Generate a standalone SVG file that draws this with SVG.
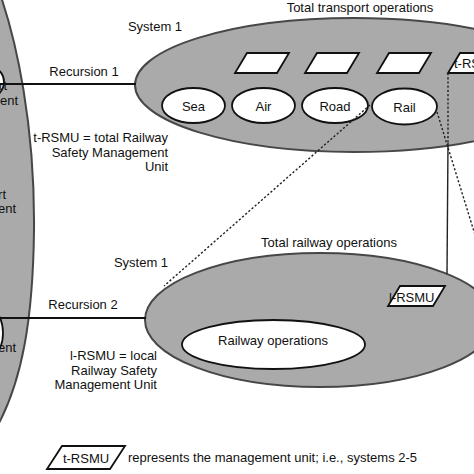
<svg xmlns="http://www.w3.org/2000/svg" width="474" height="474" viewBox="0 0 474 474">
<style>
text{font-family:"Liberation Sans",Arial,sans-serif;font-size:13px;fill:#111}
.sys{fill:#aaaaaa;stroke:#474747;stroke-width:2}
.unit{fill:#fff;stroke:#111;stroke-width:1.8}
.sub{fill:#fff;stroke:#111;stroke-width:1.8}
.dash{stroke:#222;stroke-width:1.4;stroke-dasharray:2.2 2;fill:none}
.rec{stroke:#111;stroke-width:2.2;fill:none}
</style>
<rect width="474" height="474" fill="#fff"/>
<g id="left-system">
<path class="sys" d="M -60,-20 L -5,-20 C 18,40 35,130 34,230 C 33,320 22,380 -2,425 L -60,425 Z"/>
<ellipse class="sub" cx="-20" cy="82" rx="24" ry="19"/>
<ellipse class="sub" cx="-25" cy="333" rx="28" ry="33" stroke-width="2.5"/>
<text x="7" y="90" text-anchor="end">Transport</text>
<text x="18" y="105" text-anchor="end">Management</text>
<text x="6" y="199" text-anchor="end">Transport</text>
<text x="16" y="213" text-anchor="end">Management</text>
<text x="16" y="352" text-anchor="end">Management</text>
</g>
<g id="system-transport">
<ellipse class="sys" cx="354" cy="85" rx="219" ry="67"/>
<text x="360" y="12" text-anchor="middle">Total transport operations</text>
<text x="155" y="31" text-anchor="middle">System 1</text>
<text x="84" y="76" text-anchor="middle">Recursion 1</text>
</g>
<g id="units-top">
<polygon class="unit" points="247,53 289,53 277,73 235,73"/>
<polygon class="unit" points="317,53 359,53 347,73 305,73"/>
<polygon class="unit" points="389,53 431,53 419,73 377,73"/>
<polygon class="unit" points="460,53 502,53 490,73 448,73" stroke-width="2.2"/>
<text x="454" y="68">t-RSMU</text>
</g>
<g id="sea"><ellipse class="sub" cx="193.5" cy="105.5" rx="31.5" ry="17.5"/><text x="193.5" y="110.5" text-anchor="middle">Sea</text></g>
<g id="air"><ellipse class="sub" cx="263.5" cy="105.5" rx="31.5" ry="17.5"/><text x="263.5" y="110.5" text-anchor="middle">Air</text></g>
<g id="road"><ellipse class="sub" cx="335" cy="105.5" rx="33" ry="17.5"/><text x="335" y="110.5" text-anchor="middle">Road</text></g>
<g id="rail"><ellipse class="sub" cx="404.5" cy="106.5" rx="32.5" ry="18" stroke-width="3.5"/><text x="404.5" y="111.5" text-anchor="middle">Rail</text></g>
<g id="t-rsmu-note">
<text x="168" y="142" text-anchor="end">t-RSMU = total Railway</text>
<text x="168" y="157" text-anchor="end">Safety Management</text>
<text x="168" y="171" text-anchor="end">Unit</text>
</g>
<g id="system-railway">
<ellipse class="sys" cx="320" cy="320" rx="175" ry="67"/>
<text x="329" y="247" text-anchor="middle">Total railway operations</text>
<text x="141" y="267" text-anchor="middle">System 1</text>
<text x="83" y="309" text-anchor="middle">Recursion 2</text>
</g>
<g id="l-rsmu">
<polygon class="unit" points="400,286 445,286 433,306 388,306" stroke-width="2.2"/>
<text x="389" y="302">l-RSMU</text>
</g>
<g id="railway-operations">
<ellipse class="sub" cx="273.5" cy="344.5" rx="91.5" ry="24.5" stroke-width="2.6"/>
<text x="273" y="345" text-anchor="middle">Railway operations</text>
</g>
<g id="l-rsmu-note">
<text x="157" y="360" text-anchor="end">l-RSMU = local</text>
<text x="157" y="375" text-anchor="end">Railway Safety</text>
<text x="157" y="389" text-anchor="end">Management Unit</text>
</g>
<g id="connectors">
<line class="rec" x1="0" y1="84" x2="136" y2="84"/>
<line class="rec" x1="0" y1="318" x2="146" y2="318"/>
<line class="dash" x1="370" y1="105" x2="164" y2="286"/>
<line class="dash" x1="437" y1="112" x2="476" y2="238"/>
<line class="dash" x1="448" y1="73" x2="448" y2="143"/>
<line x1="448" y1="143" x2="447" y2="274" stroke="#222" stroke-width="1.4"/>
</g>
<g id="legend">
<polygon class="unit" points="62,446 125,446 110,469 47,469" stroke-width="1.5"/>
<text x="86" y="463" text-anchor="middle">t-RSMU</text>
<text x="128" y="462">represents the management unit; i.e., systems 2-5</text>
</g>
</svg>
